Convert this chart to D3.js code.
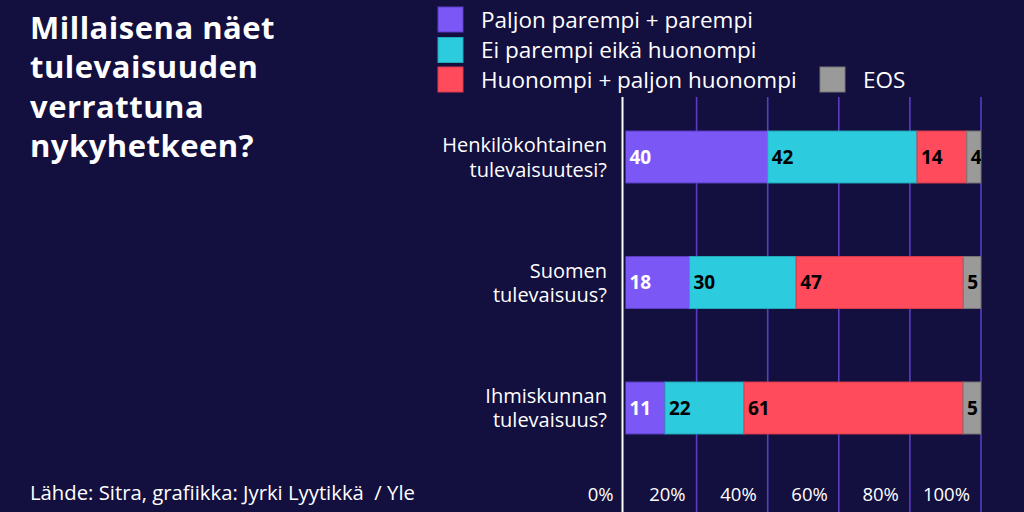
<!DOCTYPE html>
<html>
<head>
<meta charset="utf-8">
<script src="https://cdn.jsdelivr.net/npm/d3@7"></script>
<style>
  body { margin: 0; background: #130f3e; }
  svg { display: block; font-family: "Open Sans", sans-serif; }
</style>
</head>
<body>
<div id="chart"></div>
<script>
// data
const categories = [
  ["Henkilökohtainen", "tulevaisuutesi?"],
  ["Suomen", "tulevaisuus?"],
  ["Ihmiskunnan", "tulevaisuus?"]
];
const seriesNames = ["Paljon parempi + parempi", "Ei parempi eikä huonompi", "Huonompi + paljon huonompi", "EOS"];
const better = [40, 18, 11];
const neutral = [42, 30, 22];
const worse = [14, 47, 61];
const dontKnow = [4, 5, 5];
const tickValues = [0, 0.2, 0.4, 0.6, 0.8, 1];
const titleLines = ["Millaisena näet", "tulevaisuuden", "verrattuna", "nykyhetkeen?"];
const source = "Lähde: Sitra, grafiikka: Jyrki Lyytikkä  / Yle";

const colors = ["#7b58f6", "#2ccbdd", "#ff4b5c", "#9a9a9a"];
const strokes = ["#5a3fc4", "#22a9b8", "#d83c4c", "#777777"];
const labelColors = ["#ffffff", "#000000", "#000000", "#000000"];

const width = 1024;
const height = 512;

const rows = categories.map((c, i) => ({
  key: i, s0: better[i], s1: neutral[i], s2: worse[i], s3: dontKnow[i]
}));
const keys = ["s0", "s1", "s2", "s3"];
// each row is normalised to 100 %
const stacked = d3.stack().keys(keys).offset(d3.stackOffsetExpand)(rows);

const svg = d3.select("#chart").append("svg")
  .attr("width", width)
  .attr("height", height);

svg.append("rect").attr("width", width).attr("height", height).attr("fill", "#130f3e");

const x = d3.scaleLinear().domain([0, 1]).range([625.5, 981]);
const y = d3.scaleBand()
  .domain(d3.range(categories.length))
  .range([94, 471])
  .paddingInner(0.586)
  .paddingOuter(0.295);

// gridlines
svg.append("g")
  .selectAll("line")
  .data(tickValues.slice(1))
  .join("line")
  .attr("x1", d => x(d))
  .attr("x2", d => x(d))
  .attr("y1", 97)
  .attr("y2", height)
  .attr("stroke", "#5b3cc6")
  .attr("stroke-width", 1.6);

// zero line
svg.append("line")
  .attr("x1", x(0) - 3)
  .attr("x2", x(0) - 3)
  .attr("y1", 97)
  .attr("y2", height)
  .attr("stroke", "#ffffff")
  .attr("stroke-width", 2);

// tick labels
svg.append("g")
  .selectAll("text")
  .data(tickValues)
  .join("text")
  .attr("x", d => (d === 0 ? x(0) - 12 : x(d) - 11))
  .attr("y", 501)
  .attr("text-anchor", "end")
  .attr("fill", "#ffffff")
  .style("font-size", "18.5px")
  .text(d3.format(".0%"));

svg.append("clipPath").attr("id", "plotClip")
  .append("rect")
  .attr("x", x(0)).attr("y", 0)
  .attr("width", x(1) - x(0)).attr("height", height);

// bars
const layer = svg.append("g").attr("clip-path", "url(#plotClip)")
  .selectAll("g")
  .data(stacked)
  .join("g");

layer.selectAll("rect")
  .data(d => d.map(v => ({ v, i: d.index })))
  .join("rect")
  .attr("x", d => x(d.v[0]))
  .attr("y", d => y(d.v.data.key))
  .attr("width", d => x(d.v[1]) - x(d.v[0]))
  .attr("height", y.bandwidth())
  .attr("fill", d => colors[d.i])
  .attr("stroke", d => strokes[d.i])
  .attr("stroke-width", 1);

layer.selectAll("text")
  .data(d => d.map(v => ({ v, i: d.index })))
  .join("text")
  .attr("x", d => x(d.v[0]) + 4)
  .attr("y", d => y(d.v.data.key) + y.bandwidth() / 2)
  .attr("dy", "0.36em")
  .attr("fill", d => labelColors[d.i])
  .style("font-size", "19px")
  .style("font-weight", "bold")
  .text(d => d.v.data[keys[d.i]]);

// category labels, one text per line
const catLines = categories.flatMap((c, i) => c.map((line, j) => ({ line, i, j })));
svg.append("g")
  .selectAll("text")
  .data(catLines)
  .join("text")
  .attr("x", 607)
  .attr("y", d => y(d.i) + y.bandwidth() / 2 - 12 + d.j * 24.5)
  .attr("dy", "0.35em")
  .attr("text-anchor", "end")
  .attr("fill", "#ffffff")
  .style("font-size", "20px")
  .text(d => d.line);

// title
svg.append("g")
  .selectAll("text")
  .data(titleLines)
  .join("text")
  .attr("x", 30)
  .attr("y", (d, i) => 39 + i * 39.3)
  .attr("fill", "#ffffff")
  .style("font-size", "31px")
  .style("font-weight", "bold")
  .style("letter-spacing", "0.5px")
  .text(d => d);

// legend
const legendPos = [
  { x: 438, y: 7 },
  { x: 438, y: 37.5 },
  { x: 438, y: 67 },
  { x: 820, y: 67 }
];
const legend = svg.append("g")
  .selectAll("g")
  .data(seriesNames)
  .join("g")
  .attr("transform", (d, i) => `translate(${legendPos[i].x}, ${legendPos[i].y})`);

legend.append("rect")
  .attr("width", 25)
  .attr("height", 25)
  .attr("fill", (d, i) => colors[i])
  .attr("stroke", (d, i) => strokes[i])
  .attr("stroke-width", 1);

legend.append("text")
  .attr("x", 43)
  .attr("y", 13)
  .attr("dy", "0.35em")
  .attr("fill", "#ffffff")
  .style("font-size", "22.5px")
  .text(d => d);

// source
svg.append("text")
  .attr("x", 30)
  .attr("y", 500)
  .attr("fill", "#ffffff")
  .style("font-size", "20.3px")
  .style("white-space", "pre")
  .text(source);
</script>
</body>
</html>
